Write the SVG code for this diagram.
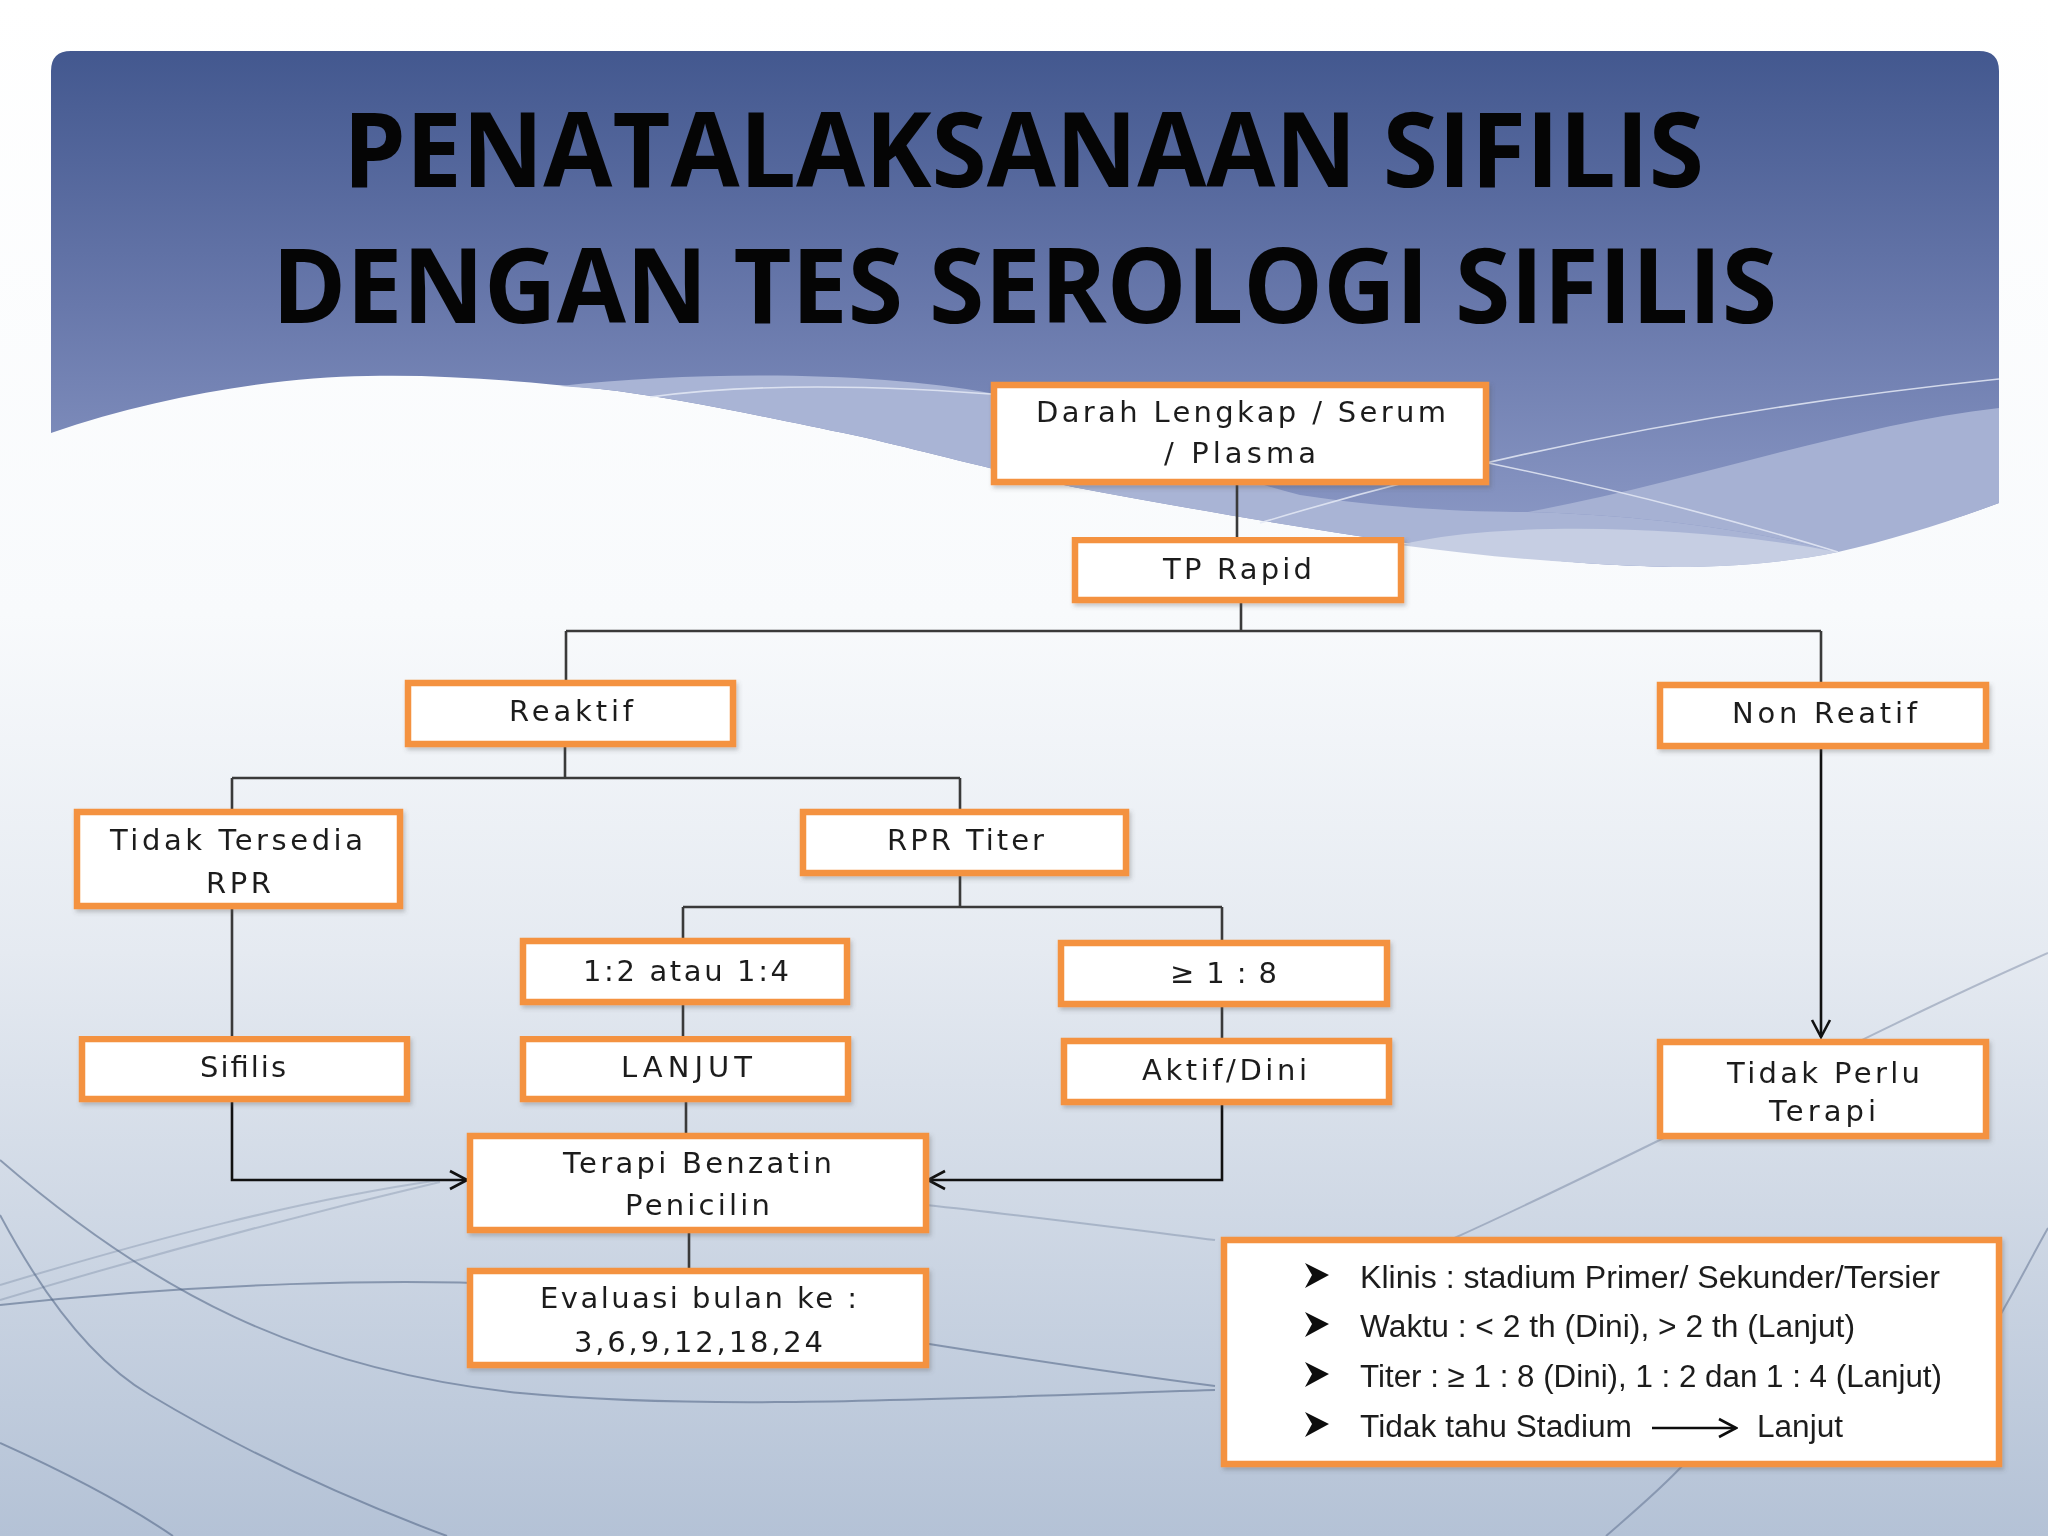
<svg xmlns="http://www.w3.org/2000/svg" width="2048" height="1536" viewBox="0 0 2048 1536">
<defs>
<linearGradient id="bg" x1="0" y1="0" x2="0" y2="1536" gradientUnits="userSpaceOnUse">
<stop offset="0" stop-color="#ffffff"/>
<stop offset="0.4" stop-color="#f8fafc"/>
<stop offset="0.62" stop-color="#e5eaf1"/>
<stop offset="1" stop-color="#b4c2d6"/>
</linearGradient>
<linearGradient id="band" x1="0" y1="51" x2="0" y2="560" gradientUnits="userSpaceOnUse">
<stop offset="0" stop-color="#43588f"/>
<stop offset="0.5" stop-color="#6878ab"/>
<stop offset="1" stop-color="#8e9bc7"/>
</linearGradient>
<filter id="sh" x="-5%" y="-5%" width="112%" height="125%">
<feDropShadow dx="2" dy="3" stdDeviation="2" flood-color="#555" flood-opacity="0.3"/>
</filter>
<marker id="arr" markerUnits="userSpaceOnUse" markerWidth="22" markerHeight="22" viewBox="0 0 22 22" refX="20" refY="11" orient="auto">
<path d="M3,2 L20,11 L3,20" fill="none" stroke="#111" stroke-width="2.6"/>
</marker>
<path id="bul" d="M0,0 L24,12 L0,25 L7,12 Z"/>
<style>
.box{fill:#fff;stroke:#f4923f;stroke-width:6.5}
.t{font-family:"DejaVu Sans",Verdana,sans-serif;font-size:29px;fill:#1e1e1e}
.c{fill:none;stroke:#3a3a3a;stroke-width:2.6}
.a{fill:none;stroke:#111;stroke-width:2.6}
.title{font-family:"Open Sans","Liberation Sans",sans-serif;font-weight:700;font-size:104px;fill:#050505}
.note{font-family:"Liberation Sans",Arial,sans-serif;font-size:31px;fill:#1e1e1e}
.bul{fill:#111}
.deco{fill:none;stroke:#4f6283;stroke-width:2;opacity:0.55}
.wl{fill:none;stroke:#e4e9f5;stroke-width:1.6;opacity:0.85}
</style>
</defs>

<!-- background -->
<rect x="0" y="0" width="2048" height="1536" fill="url(#bg)"/>
<g id="decor-lines">
<path class="deco" d="M0,1160 C150,1290 300,1370 520,1393 C700,1410 900,1400 1215,1390"/>
<path class="deco" d="M0,1215 C40,1290 90,1360 150,1395 C250,1455 350,1500 447,1536"/>
<path class="deco" d="M0,1305 C200,1283 400,1278 520,1285 C700,1300 900,1345 1215,1386"/>
<path class="deco" d="M0,1443 C60,1470 120,1500 173,1536"/>
<path class="deco" style="opacity:0.25" d="M0,1285 C150,1240 300,1200 440,1180"/>
<path class="deco" style="opacity:0.25" d="M0,1300 C150,1255 300,1215 440,1182"/>
<path class="deco" style="opacity:0.3" d="M926,1205 C1020,1215 1120,1228 1215,1240"/>
<path class="deco" style="opacity:0.35" d="M1450,1240 C1650,1150 1850,1040 2048,953"/>
<path class="deco" style="opacity:0.45" d="M1685,1463 C1660,1490 1630,1515 1606,1536"/>
<path class="deco" style="opacity:0.45" d="M1998,1319 C2015,1290 2030,1260 2048,1228"/>
</g>

<!-- title band -->
<g id="header">
<path d="M51,433 L51,71 Q51,51 71,51 L1979,51 Q1999,51 1999,71 L1999,503 C1900,540 1760,572 1640,566 C1480,560 1250,520 1073,487 C1000,472 900,445 853,435 C780,420 680,398 600,389 C520,381 440,374 367,376 C280,377 160,395 51,433 Z" fill="url(#band)"/>
<path d="M560,386 C700,370 880,372 990,393 C1100,420 1200,470 1300,495 C1400,510 1480,512 1528,512 C1650,515 1760,532 1838,552 C1760,568 1680,568 1640,566 C1480,560 1250,520 1073,487 C1000,472 900,445 853,435 C780,420 680,398 600,389 Z" fill="#a9b4d5"/>
<path d="M1528,512 C1700,480 1850,425 1999,408 L1999,503 C1940,525 1890,540 1838,552 C1760,532 1650,515 1528,512 Z" fill="#a6b1d3"/>
<path d="M1400,545 C1500,520 1700,525 1838,552 C1760,568 1680,568 1640,566 C1560,563 1480,556 1400,545 Z" fill="#c6cee3"/>
<path class="wl" d="M650,397 C850,370 1150,400 1488,463 C1620,490 1740,522 1838,552"/>
<path class="wl" d="M1260,523 C1500,450 1750,405 1999,379"/>
<text class="title" x="343" y="187" textLength="1361" lengthAdjust="spacingAndGlyphs">PENATALAKSANAAN SIFILIS</text>
<text class="title" x="272" y="323" textLength="1505" lengthAdjust="spacingAndGlyphs">DENGAN TES SEROLOGI SIFILIS</text>
</g>

<!-- connectors -->
<g id="connectors">
<path class="c" d="M1237,483 V537"/>
<path class="c" d="M1241,601 V631 M566,631 H1821 M566,631 V680 M1821,631 V682"/>
<path class="c" d="M565,745 V778 M232,778 H960 M232,778 V809 M960,778 V809"/>
<path class="c" d="M960,874 V907 M683,907 H1222 M683,907 V938 M1222,907 V941"/>
<path class="c" d="M232,908 V1036"/>
<path class="c" d="M683,1003 V1036"/>
<path class="c" d="M1222,1005 V1038"/>
<path class="c" d="M686,1100 V1133"/>
<path class="c" d="M689,1232 V1268"/>
<path class="a" d="M232,1100 V1180 H467" marker-end="url(#arr)"/>
<path class="a" d="M1222,1103 V1180 H928" marker-end="url(#arr)"/>
<path class="a" d="M1821,747 V1037" marker-end="url(#arr)"/>
</g>

<!-- nodes -->
<g id="n-darah" filter="url(#sh)">
<rect class="box" x="994" y="385" width="492" height="97"/>
<text class="t" x="1036" y="422" textLength="410" lengthAdjust="spacing">Darah Lengkap / Serum</text>
<text class="t" x="1164" y="463" textLength="152" lengthAdjust="spacing">/ Plasma</text>
</g>
<g id="n-tprapid" filter="url(#sh)">
<rect class="box" x="1075" y="540" width="326" height="60"/>
<text class="t" x="1163" y="579" textLength="149" lengthAdjust="spacing">TP Rapid</text>
</g>
<g id="n-reaktif" filter="url(#sh)">
<rect class="box" x="408" y="683" width="325" height="61"/>
<text class="t" x="509" y="721" textLength="124" lengthAdjust="spacing">Reaktif</text>
</g>
<g id="n-nonreaktif" filter="url(#sh)">
<rect class="box" x="1660" y="685" width="326" height="61"/>
<text class="t" x="1732" y="723" textLength="185" lengthAdjust="spacing">Non Reatif</text>
</g>
<g id="n-tidaktersedia" filter="url(#sh)">
<rect class="box" x="77" y="812" width="323" height="94"/>
<text class="t" x="110" y="850" textLength="253" lengthAdjust="spacing">Tidak Tersedia</text>
<text class="t" x="206" y="893" textLength="65" lengthAdjust="spacing">RPR</text>
</g>
<g id="n-rprtiter" filter="url(#sh)">
<rect class="box" x="803" y="812" width="323" height="61"/>
<text class="t" x="887" y="850" textLength="157" lengthAdjust="spacing">RPR Titer</text>
</g>
<g id="n-titer-low" filter="url(#sh)">
<rect class="box" x="523" y="941" width="324" height="61"/>
<text class="t" x="583" y="981" textLength="206" lengthAdjust="spacing">1:2 atau 1:4</text>
</g>
<g id="n-titer-high" filter="url(#sh)">
<rect class="box" x="1061" y="943" width="326" height="61"/>
<text class="t" x="1170" y="983" textLength="107" lengthAdjust="spacing">≥ 1 : 8</text>
</g>
<g id="n-sifilis" filter="url(#sh)">
<rect class="box" x="82" y="1039" width="325" height="60"/>
<text class="t" x="200" y="1077" textLength="86" lengthAdjust="spacing">Sifilis</text>
</g>
<g id="n-lanjut" filter="url(#sh)">
<rect class="box" x="523" y="1039" width="325" height="60"/>
<text class="t" x="621" y="1077" textLength="131" lengthAdjust="spacing">LANJUT</text>
</g>
<g id="n-aktif" filter="url(#sh)">
<rect class="box" x="1064" y="1041" width="325" height="61"/>
<text class="t" x="1142" y="1080" textLength="165" lengthAdjust="spacing">Aktif/Dini</text>
</g>
<g id="n-tidakperlu" filter="url(#sh)">
<rect class="box" x="1660" y="1042" width="326" height="94"/>
<text class="t" x="1727" y="1083" textLength="193" lengthAdjust="spacing">Tidak Perlu</text>
<text class="t" x="1769" y="1121" textLength="107" lengthAdjust="spacing">Terapi</text>
</g>
<g id="n-terapi" filter="url(#sh)">
<rect class="box" x="470" y="1136" width="456" height="94"/>
<text class="t" x="563" y="1173" textLength="269" lengthAdjust="spacing">Terapi Benzatin</text>
<text class="t" x="625" y="1215" textLength="145" lengthAdjust="spacing">Penicilin</text>
</g>
<g id="n-evaluasi" filter="url(#sh)">
<rect class="box" x="470" y="1271" width="456" height="94"/>
<text class="t" x="540" y="1308" textLength="317" lengthAdjust="spacing">Evaluasi bulan ke :</text>
<text class="t" x="574" y="1352" textLength="249" lengthAdjust="spacing">3,6,9,12,18,24</text>
</g>
<g id="notes" filter="url(#sh)">
<rect class="box" x="1224" y="1240" width="775" height="224"/>
<use href="#bul" class="bul" x="1305" y="1263"/>
<text class="note" x="1360" y="1288" textLength="580" lengthAdjust="spacingAndGlyphs">Klinis : stadium Primer/ Sekunder/Tersier</text>
<use href="#bul" class="bul" x="1305" y="1312"/>
<text class="note" x="1360" y="1337" textLength="495" lengthAdjust="spacingAndGlyphs">Waktu : &lt; 2 th (Dini), &gt; 2 th (Lanjut)</text>
<use href="#bul" class="bul" x="1305" y="1362"/>
<text class="note" x="1360" y="1387" textLength="582" lengthAdjust="spacingAndGlyphs">Titer : ≥ 1 : 8 (Dini), 1 : 2 dan 1 : 4 (Lanjut)</text>
<use href="#bul" class="bul" x="1305" y="1412"/>
<text class="note" x="1360" y="1437" textLength="272" lengthAdjust="spacingAndGlyphs">Tidak tahu Stadium</text>
<path class="a" d="M1652,1428 H1736" marker-end="url(#arr)"/>
<text class="note" x="1757" y="1437" textLength="86" lengthAdjust="spacingAndGlyphs">Lanjut</text>
</g>
</svg>
